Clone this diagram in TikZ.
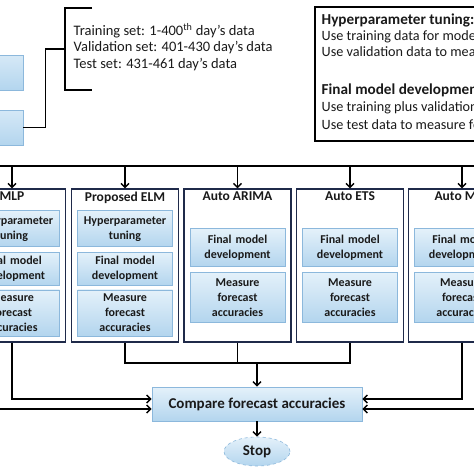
\documentclass[tikz,border=0pt]{standalone}
\usepackage{fontspec}
\setmainfont{Carlito}
\usetikzlibrary{positioning, shapes.geometric, arrows.meta}

\definecolor{navy}{HTML}{1F2A4A}
\definecolor{boxline}{HTML}{8CB8DC}
\definecolor{boxtop}{HTML}{E4F1FA}
\definecolor{boxbot}{HTML}{B3D5EE}
\definecolor{ink}{HTML}{1A1A1A}

\begin{document}
\begin{tikzpicture}[x=1pt, y=-1pt, line width=1.4pt, >={Straight Barb[length=4pt, width=8pt]},
    model/.style={draw=navy, line width=1.3pt, fill=white, minimum width=107pt, minimum height=153pt},
    title/.style={inner sep=2pt, text=ink, font=\fontsize{13.5}{15}\selectfont\bfseries},
    stepbox/.style={draw=boxline, line width=0.6pt, top color=boxtop, bottom color=boxbot,
        minimum width=95pt, text width=91pt, align=center, inner sep=1pt, text=ink,
        font=\fontsize{12}{15}\selectfont\bfseries},
    databox/.style={draw=boxline, line width=0.6pt, top color=boxtop!70!boxbot, bottom color=boxbot,
        minimum width=90pt, minimum height=35pt}]
    \fill[white] (0,0) rectangle (474,474);
    \useasboundingbox (0,0) rectangle (474,474);
    \clip (0,0) rectangle (474,474);

    % data split
    \node[databox] (data) at (-22,73) {};
    \node[databox] (split) at (-22,127.5) {};
    \coordinate (brace) at (65,49);
    \draw (92,8) -- (65,8) -- (65,90) -- (92,90);
    \draw (split.east) -- ++(22,0) |- (brace);
    \node[anchor=north west, align=left, inner sep=0pt, text=ink, font=\fontsize{14.5}{16.5}\selectfont] (sets) at (73,22.5)
        {Training set: 1-400\textsuperscript{th} day's data\\Validation set: 401-430 day's data\\Test set: 431-461 day's data};

    % notes
    \node[draw, line width=1.6pt, minimum width=260pt, minimum height=134pt, anchor=north west] (notes) at (314,6) {};
    \node[anchor=north west, align=left, inner sep=0pt, text=ink, font=\fontsize{14.2}{16}\selectfont] (hyp) at (321,13)
        {{\fontsize{15.2}{17}\selectfont\bfseries Hyperparameter tuning:}\\Use training data for model development\\Use validation data to measure forecast accuracies};
    \node[anchor=north west, align=left, inner sep=0pt, text=ink, font=\fontsize{14.2}{17.5}\selectfont] (fin) at (321,83)
        {{\fontsize{15.2}{17}\selectfont\bfseries Final model development:}\\Use training plus validation set for model development\\Use test data to measure forecast accuracies};

    % models
    \node[model] (mlp) at (12,265.5) {};
    \node[model] (elm) at (125,265.5) {};
    \node[model] (arima) at (237.5,265.5) {};
    \node[model] (ets) at (350,265.5) {};
    \node[model] (amlp) at (462,265.5) {};

    \node[title, below=1pt of mlp.north] (mlpT) {MLP};
    \node[stepbox, minimum height=36pt, below=22pt of mlp.north] (mlpTune) {Hyperparameter\\tuning};
    \node[stepbox, minimum height=33pt, below=5pt of mlpTune] (mlpFinal) {Final model\\development};
    \node[stepbox, minimum height=46pt, below=4pt of mlpFinal] (mlpAcc) {Measure\\forecast\\accuracies};

    \node[title, below=1pt of elm.north] (elmT) {Proposed ELM};
    \node[stepbox, minimum height=36pt, below=22pt of elm.north] (elmTune) {Hyperparameter\\tuning};
    \node[stepbox, minimum height=33pt, below=5pt of elmTune] (elmFinal) {Final model\\development};
    \node[stepbox, minimum height=46pt, below=4pt of elmFinal] (elmAcc) {Measure\\forecast\\accuracies};

    \node[title, below=1pt of arima.north] (arimaT) {Auto ARIMA};
    \node[stepbox, minimum height=38pt, below=40pt of arima.north] (arimaFinal) {Final model\\development};
    \node[stepbox, minimum height=50pt, below=5pt of arimaFinal] (arimaAcc) {Measure\\forecast\\accuracies};

    \node[title, below=1pt of ets.north] (etsT) {Auto ETS};
    \node[stepbox, minimum height=38pt, below=40pt of ets.north] (etsFinal) {Final model\\development};
    \node[stepbox, minimum height=50pt, below=5pt of etsFinal] (etsAcc) {Measure\\forecast\\accuracies};

    \node[title, below=1pt of amlp.north] (amlpT) {Auto MLP};
    \node[stepbox, minimum height=38pt, below=40pt of amlp.north] (amlpFinal) {Final model\\development};
    \node[stepbox, minimum height=50pt, below=5pt of amlpFinal] (amlpAcc) {Measure\\forecast\\accuracies};

    % compare and stop
    \node[stepbox, text width=, minimum width=210pt, minimum height=34pt, font=\fontsize{15}{17}\selectfont\bfseries] (cmp) at (257,404) {Compare forecast accuracies};
    \node[ellipse, draw=boxline, dashed, line width=0.6pt, top color=boxtop, bottom color=boxbot,
        minimum width=66pt, minimum height=29pt, inner sep=0pt, text=ink, font=\fontsize{15}{17}\selectfont\bfseries] (stop) at (257,451.5) {Stop};

    % feed the models
    \coordinate (distL) at (-20,166);
    \coordinate (distR) at (500,166);
    \draw (distL) -- (distR);
    \draw[->] (mlp.north |- distL) -- (mlp.north);
    \draw[->] (elm.north |- distL) -- (elm.north);
    \draw[->] (arima.north |- distL) -- (arima.north);
    \draw[->] (ets.north |- distL) -- (ets.north);
    \draw[->] (amlp.north |- distL) -- (amlp.north);

    % collect the results
    \coordinate (join) at (257,363);
    \draw (elm.south) |- (ets.south |- join) -- (ets.south);
    \draw (arima.south) -- (arima.south |- join);
    \draw[->] (join) -- (cmp.north);
    \draw[->] (mlp.south) |- ([yshift=5pt]cmp.west);
    \draw[->] (amlp.south) |- ([yshift=5pt]cmp.east);
    \coordinate (inL) at (-10,409);
    \coordinate (inR) at (490,409);
    \draw[->] (inL) -- ([yshift=-5pt]cmp.west);
    \draw[->] (inR) -- ([yshift=-5pt]cmp.east);
    \draw[->] (cmp.south) -- (stop.north);
\end{tikzpicture}
\end{document}
